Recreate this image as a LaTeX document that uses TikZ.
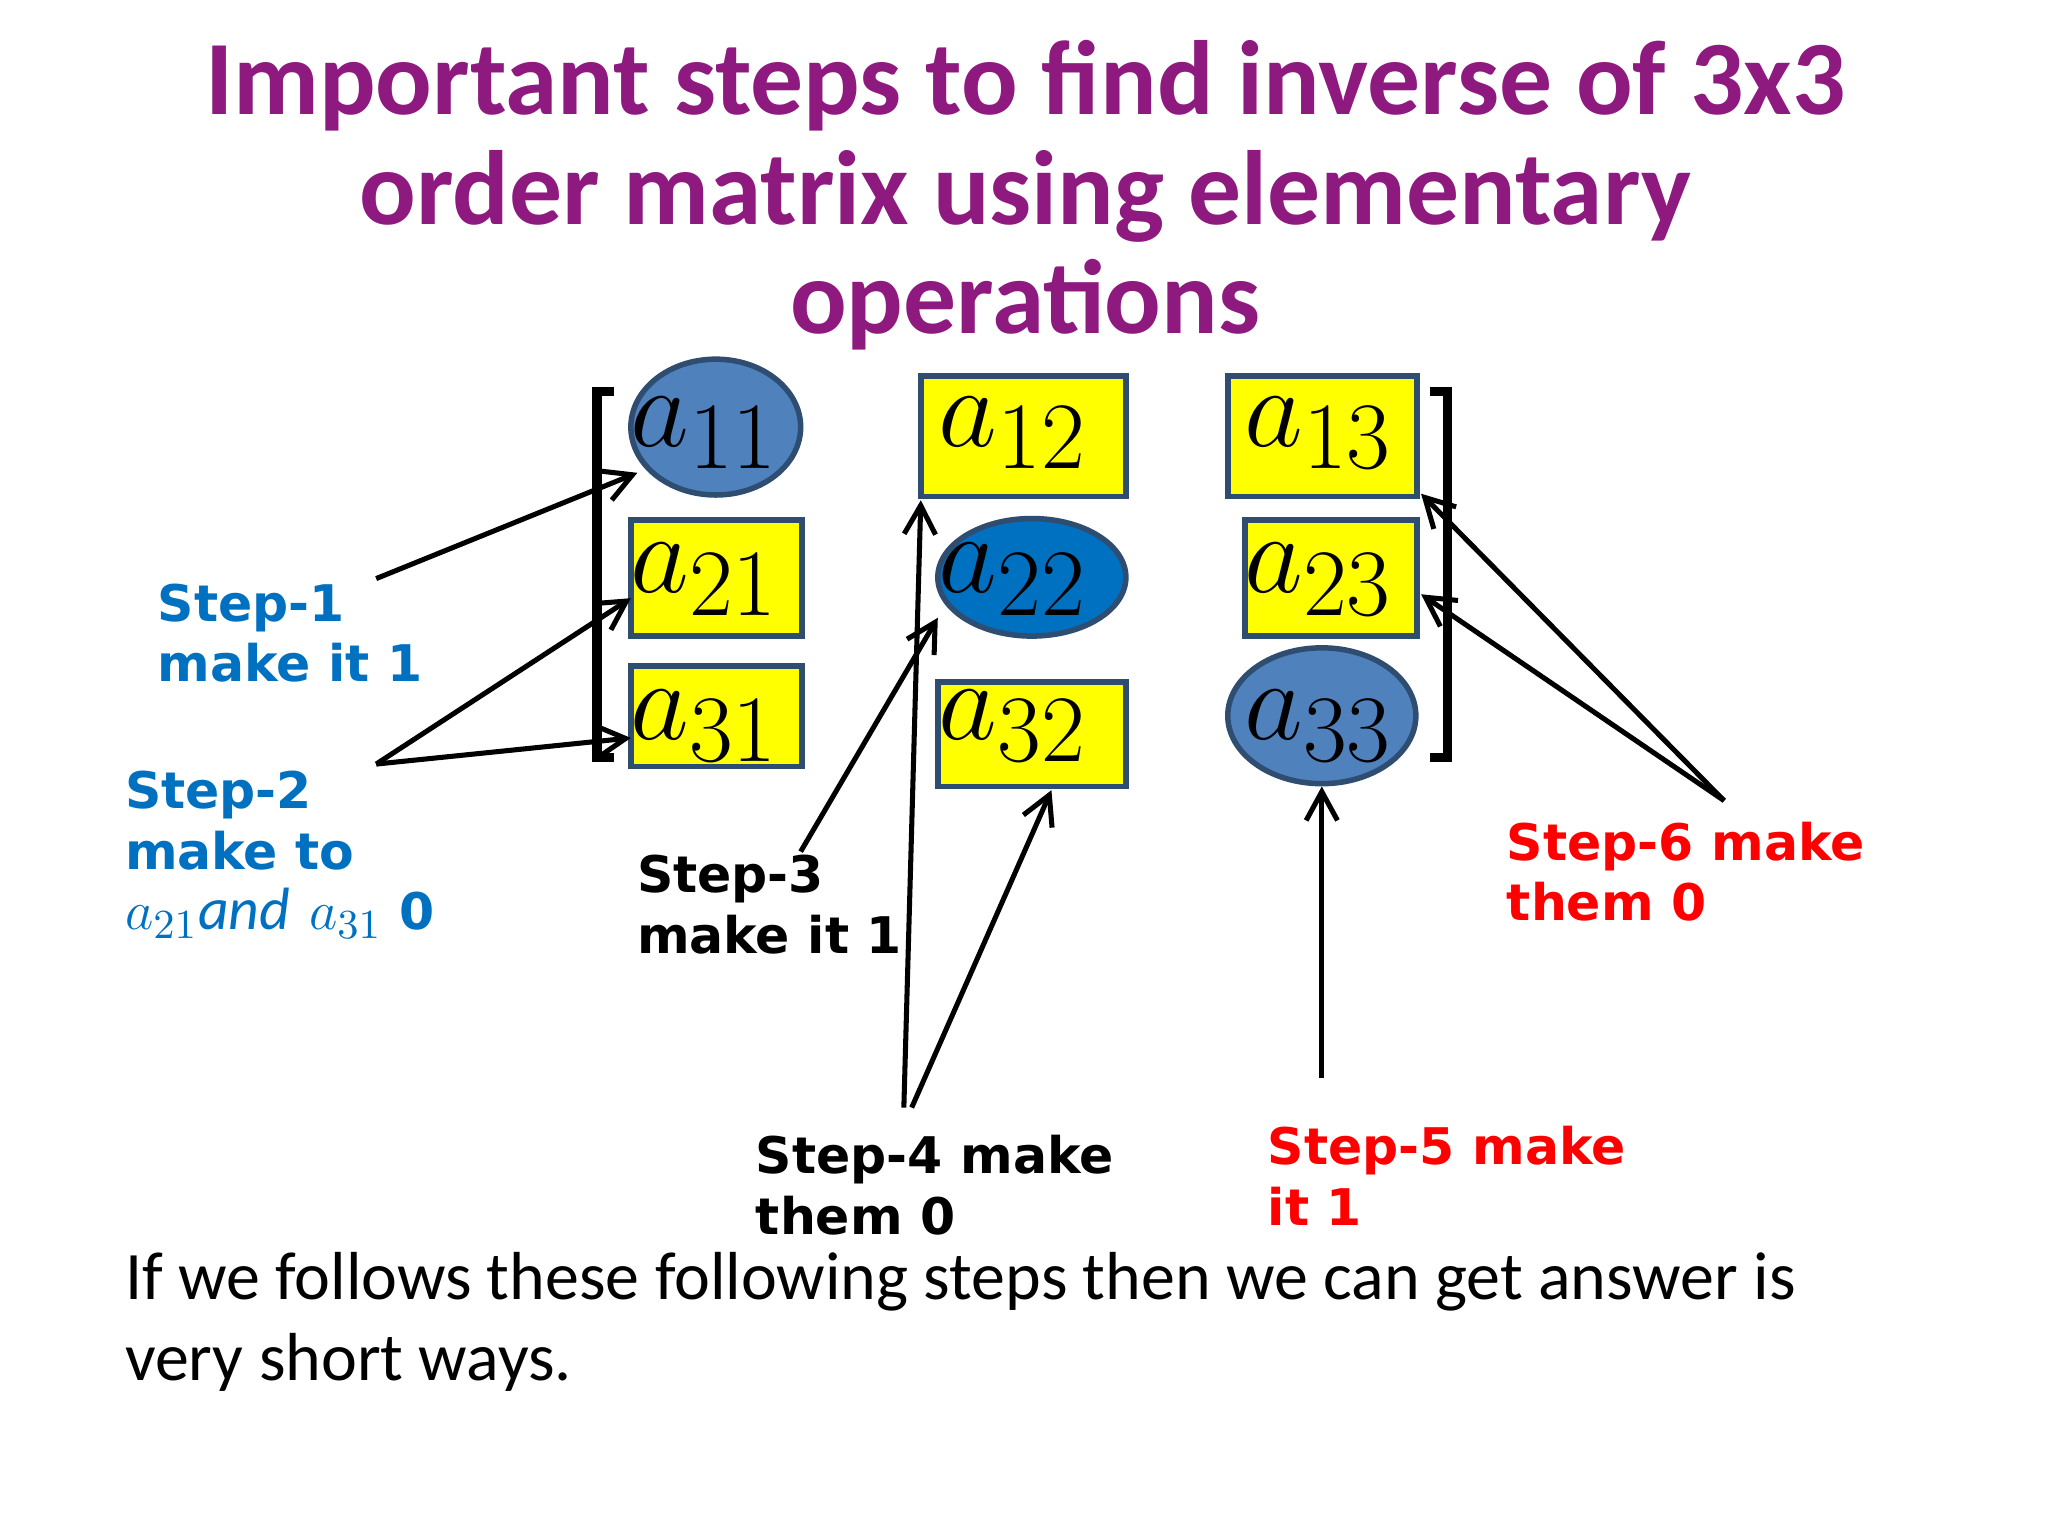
\documentclass[tikz,border=0pt]{standalone}
\usepackage{fontspec}
\setmainfont{Carlito}
\newfontfamily\stepfont{DejaVu Sans}
\usetikzlibrary{arrows.meta,shapes.geometric}
\definecolor{ttl}{HTML}{8E1A80}
\definecolor{sblue}{HTML}{0070C0}
\definecolor{ell}{HTML}{4F81BD}
\definecolor{ylw}{HTML}{FFFF00}
\tikzset{
 cellbox/.style={draw=ell!60!black,line width=1.2pt,fill=ylw,inner sep=0pt},
 cellell/.style={ellipse,draw=ell!60!black,line width=1.2pt,fill=ell,inner sep=0pt},
 ent/.style={anchor=base west,inner sep=0pt,font=\fontsize{32}{32}\selectfont},
 steptxt/.style={anchor=base west,inner sep=0pt,align=left,font=\stepfont\bfseries\fontsize{11}{13.2}\selectfont},
 ttltxt/.style={anchor=base,inner sep=0pt,ttl,font=\bfseries\fontsize{23}{26}\selectfont},
 arr/.style={-{Straight Barb[length=2.2mm,width=2.4mm]},line width=1.1pt},
}
\begin{document}
\begin{tikzpicture}[x=1cm,y=1cm]
\useasboundingbox (0,0) rectangle (15.68,-11.76);
% title
\node[ttltxt] (title1) at (7.85,-0.88) {Important steps to find inverse of 3x3};
\node[ttltxt] (title2) at (7.85,-1.72) {order matrix using elementary};
\node[ttltxt] (title3) at (7.85,-2.55) {operations};
% brackets
\draw[line width=2pt] (4.70,-3.00) -- (4.57,-3.00) -- (4.57,-5.80) -- (4.70,-5.80);
\draw[line width=2pt] (10.95,-3.00) -- (11.08,-3.00) -- (11.08,-5.80) -- (10.95,-5.80);
% cells
\node[cellell,minimum width=1.30cm,minimum height=1.04cm] (c11) at (5.48,-3.27) {};
\draw[cellbox] (7.05,-2.88) rectangle (8.62,-3.80); \coordinate (c12) at (7.05,-3.83);
\draw[cellbox] (9.40,-2.88) rectangle (10.85,-3.80); \coordinate (c13) at (10.88,-3.78);
\draw[cellbox] (4.83,-3.98) rectangle (6.14,-4.87); \coordinate (c21) at (4.83,-4.58);
\node[cellell,fill=sblue,minimum width=1.44cm,minimum height=0.90cm] (c22) at (7.90,-4.42) {};
\draw[cellbox] (9.53,-3.98) rectangle (10.85,-4.87); \coordinate (c23) at (10.88,-4.55);
\draw[cellbox] (4.83,-5.10) rectangle (6.14,-5.87); \coordinate (c31) at (4.83,-5.65);
\draw[cellbox] (7.18,-5.22) rectangle (8.62,-6.02); \coordinate (c32) at (8.05,-6.05);
\node[cellell,minimum width=1.44cm,minimum height=1.04cm] (c33) at (10.12,-5.48) {};
\node[ent] (e11) at (4.82,-3.42) {$a_{11}$};
\node[ent] (e12) at (7.18,-3.42) {$a_{12}$};
\node[ent] (e13) at (9.52,-3.42) {$a_{13}$};
\node[ent] (e21) at (4.82,-4.54) {$a_{21}$};
\node[ent] (e22) at (7.18,-4.54) {$a_{22}$};
\node[ent] (e23) at (9.52,-4.54) {$a_{23}$};
\node[ent] (e31) at (4.82,-5.66) {$a_{31}$};
\node[ent] (e32) at (7.18,-5.66) {$a_{32}$};
\node[ent] (e33) at (9.52,-5.66) {$a_{33}$};
% labels (anchor = baseline of last line)
\node[steptxt,sblue] (s1) at (1.20,-5.22) {Step-1\\make it 1};
\node[steptxt,sblue] (s2) at (0.95,-7.12) {Step-2\\make to\\{\mdseries\fontsize{13}{13}\selectfont$a_{21}\mathit{and}\ a_{31}$} 0};
\node[steptxt] (s3) at (4.87,-7.30) {Step-3\\make it 1};
\node[steptxt] (s4) at (5.78,-9.45) {Step-4 make\\them 0};
\node[steptxt,red] (s5) at (9.70,-9.38) {Step-5 make\\it 1};
\node[steptxt,red] (s6) at (11.53,-7.05) {Step-6 make\\them 0};
% arrow tails
\coordinate (t1) at (2.88,-4.43);
\coordinate (t2) at (2.88,-5.85);
\coordinate (t3) at (6.13,-6.52);
\coordinate (t4a) at (6.92,-8.48);
\coordinate (t4b) at (6.98,-8.48);
\coordinate (t5) at (10.12,-8.25);
\coordinate (t6) at (13.20,-6.13);
\draw[arr] (t1) -- (4.88,-3.62);
\draw[arr] (t2) -- (c21);
\draw[arr] (t2) -- (c31);
\draw[arr] (t3) -- (7.18,-4.73);
\draw[arr] (t4a) -- (c12);
\draw[arr] (t4b) -- (c32);
\draw[arr] (t5) -- (c33.south);
\draw[arr] (t6) -- (c13);
\draw[arr] (t6) -- (c23);
% bottom text
\node[anchor=base west,inner sep=0pt,align=left,font=\fontsize{14.8}{17.6}\selectfont] (bt) at (0.95,-10.57)
 {If we follows these following steps then we can get answer is\\very short ways.};
\end{tikzpicture}
\end{document}
